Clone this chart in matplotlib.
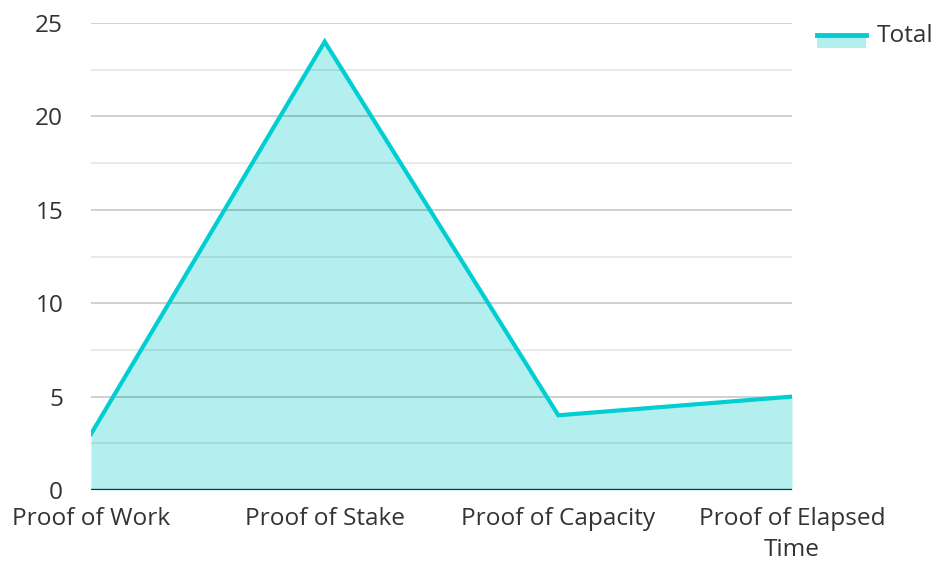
import matplotlib
matplotlib.use("Agg")
import matplotlib.pyplot as plt
from matplotlib.patches import Rectangle
from matplotlib.lines import Line2D

plt.rcParams["font.family"] = ["Open Sans", "DejaVu Sans"]

categories = ["Proof of Work", "Proof of Stake", "Proof of Capacity", "Proof of Elapsed\nTime"]
totals = [3, 24, 4, 5]
series_name = "Total"

line_c = "#00CED1"
fill_c = "#B2EFEE"
text_c = "#333333"
fs = 17.6

fig = plt.figure(figsize=(9.34, 5.62), dpi=100)
ax = fig.add_axes([91 / 934, 1 - 490 / 562, 701 / 934, 467 / 562])

x = list(range(len(categories)))
ax.fill_between(x, 0, totals, color=fill_c, lw=0, zorder=1)
ax.plot(x, totals, color=line_c, lw=3, zorder=3, solid_joinstyle="miter")

# gridlines drawn semi-transparent so they show through the fill
for v in range(5, 26, 5):
    ax.axhline(v, color="black", alpha=0.2, lw=1.3, zorder=2)
for v in [2.5, 7.5, 12.5, 17.5, 22.5]:
    ax.axhline(v, color="black", alpha=0.09, lw=1.3, zorder=2)
ax.axhline(0, color="#2f2f2f", lw=2.4, zorder=4)

ax.set_xlim(0, len(categories) - 1)
ax.set_ylim(0, 25)
ax.set_yticks(range(0, 26, 5))
ax.set_xticks(x)
ax.set_xticklabels(categories, linespacing=1.38)
ax.tick_params(length=0, labelsize=fs, colors=text_c)
ax.tick_params(axis="x", pad=12.5)
ax.tick_params(axis="y", pad=20)
for s in ax.spines.values():
    s.set_visible(False)

# legend swatch: filled patch with a line on top
fig.add_artist(Rectangle((817 / 934, 1 - 48 / 562), 49 / 934, 14 / 562,
                         transform=fig.transFigure, color=fill_c, lw=0))
fig.add_artist(Line2D([817 / 934, 866 / 934], [1 - 35 / 562, 1 - 35 / 562],
                      transform=fig.transFigure, color=line_c, lw=3.5))
fig.text(877 / 934, 1 - 36 / 562, series_name, fontsize=fs, color=text_c,
         va="center", ha="left")

fig.savefig("out.png", dpi=100)
